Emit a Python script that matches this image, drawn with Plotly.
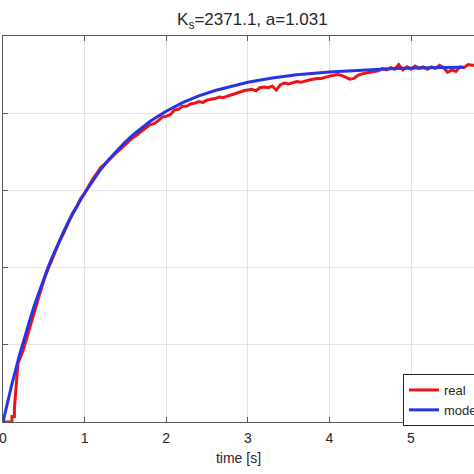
import plotly.graph_objects as go

# ---- data ----
model_t = [0, 0.1, 0.2, 0.25, 0.3, 0.35, 0.4, 0.45, 0.5, 0.55, 0.6, 0.65, 0.7, 0.75, 0.8, 0.85, 0.9, 0.95,
           1.0, 1.1, 1.2, 1.3, 1.4, 1.5, 1.6, 1.7, 1.8, 1.9, 2.0, 2.2, 2.4, 2.6, 2.8, 3.0, 3.3, 3.6,
           4.0, 4.4, 4.8, 5.2, 5.65]
model_v = [0, 226, 429, 524, 613, 698, 779, 856, 929, 998, 1063, 1126, 1185, 1241, 1295, 1345, 1395, 1439,
           1483, 1563, 1637, 1702, 1761, 1814, 1862, 1905, 1946, 1980, 2013, 2068, 2112, 2147, 2176, 2200,
           2228, 2249, 2267, 2280, 2289, 2294, 2298]

real_t = [0, 0.11, 0.11, 0.14, 0.14, 0.147, 0.17, 0.184, 0.2, 0.233,
          0.25, 0.30, 0.35, 0.40, 0.45, 0.50, 0.55, 0.60, 0.65, 0.70, 0.75, 0.80, 0.85, 0.90, 0.95,
          1.00, 1.05, 1.10, 1.15, 1.20, 1.25, 1.30, 1.35, 1.40, 1.45, 1.50, 1.55, 1.60, 1.65, 1.70,
          1.75, 1.80, 1.85, 1.90, 1.95, 2.00, 2.05, 2.10, 2.15, 2.20, 2.25, 2.30, 2.35, 2.40, 2.45,
          2.50, 2.55, 2.60, 2.65, 2.70, 2.75, 2.80, 2.85, 2.90, 2.95, 3.00, 3.05, 3.10, 3.15, 3.20,
          3.25, 3.30, 3.35, 3.40, 3.45, 3.50, 3.55, 3.60, 3.65, 3.70, 3.75, 3.80, 3.85, 3.90, 3.95,
          4.00, 4.05, 4.10, 4.15, 4.20, 4.25, 4.30, 4.35, 4.40, 4.45, 4.50, 4.55, 4.60, 4.65, 4.70,
          4.75, 4.80, 4.85, 4.90, 4.95, 5.00, 5.05, 5.10, 5.15, 5.20, 5.25, 5.30, 5.35, 5.40, 5.45,
          5.50, 5.55, 5.60, 5.65, 5.70, 5.75, 5.80]
real_v = [0, 0, 35, 35, 90, 142, 272, 382, 400, 447,
          470, 560, 655, 745, 830, 915, 990, 1050, 1120, 1180, 1230, 1290, 1350, 1390, 1445,
          1480, 1530, 1575, 1610, 1650, 1672, 1700, 1722, 1750, 1772, 1800, 1822, 1845, 1862, 1885,
          1905, 1925, 1932, 1950, 1975, 1980, 1990, 2020, 2025, 2045, 2045, 2060, 2065, 2075, 2070,
          2085, 2090, 2095, 2105, 2100, 2110, 2120, 2130, 2140, 2145, 2150, 2155, 2145, 2165, 2170,
          2165, 2175, 2150, 2185, 2195, 2190, 2200, 2205, 2200, 2210, 2215, 2220, 2225, 2225, 2235,
          2240, 2245, 2250, 2245, 2230, 2220, 2225, 2245, 2255, 2262, 2265, 2270, 2275, 2290, 2280,
          2295, 2285, 2315, 2280, 2300, 2285, 2305, 2290, 2300, 2285, 2300, 2290, 2310, 2295, 2265,
          2280, 2270, 2300, 2295, 2315, 2310, 2312]

x_ticks = [0, 1, 2, 3, 4, 5]
y_ticks = [0, 500, 1000, 1500, 2000, 2500]
title_text = "K<sub>s</sub>=2371.1, a=1.031"

W, H = 474, 474
ML, MT, MB = 3, 36, 52
px_per_s = 81.6
x_max = (W - ML) / px_per_s

fig = go.Figure()
fig.add_trace(go.Scatter(x=real_t, y=real_v, mode="lines", name="real",
                         line=dict(color="rgb(236,20,20)", width=3)))
fig.add_trace(go.Scatter(x=model_t, y=model_v, mode="lines", name="model",
                         line=dict(color="rgb(40,52,228)", width=3)))

axis_col = "#5a5a5a"
fig.update_layout(
    width=W, height=H,
    margin=dict(l=ML, r=0, t=MT, b=MB, autoexpand=False),
    paper_bgcolor="white", plot_bgcolor="white",
    font=dict(family="Liberation Sans, Arial, sans-serif", color="#262626", size=14),
    title=dict(text=title_text, x=251 / W, xref="paper", xanchor="center",
               y=1 - 19 / H, yref="container", yanchor="middle",
               font=dict(size=17, color="#262626")),
    showlegend=True,
    legend=dict(x=(403 - ML) / (W - ML), y=(422 - 374) / (422 - MT), xanchor="left", yanchor="top",
                bgcolor="white", bordercolor="#262626", borderwidth=1,
                font=dict(size=13, color="#262626"), tracegroupgap=0,
                itemwidth=30),
)
fig.update_xaxes(range=[0, x_max], tickvals=x_ticks, ticktext=[str(v) for v in x_ticks],
                 ticklabeloverflow="allow",
                 showgrid=True, gridcolor="#e3e3e3", gridwidth=1, zeroline=False,
                 showline=True, linecolor=axis_col, linewidth=1.2, mirror="ticks",
                 ticks="inside", ticklen=5, tickcolor=axis_col, ticklabelstandoff=3,
                 title=dict(text="time [s]", standoff=8, font=dict(size=14)),
                 tickfont=dict(size=14))
fig.update_yaxes(range=[0, 2500], tickvals=y_ticks, showticklabels=False,
                 showgrid=True, gridcolor="#e3e3e3", gridwidth=1, zeroline=False,
                 showline=True, linecolor=axis_col, linewidth=1.2, mirror=False,
                 ticks="inside", ticklen=5, tickcolor=axis_col)

fig.write_html("out.html")
